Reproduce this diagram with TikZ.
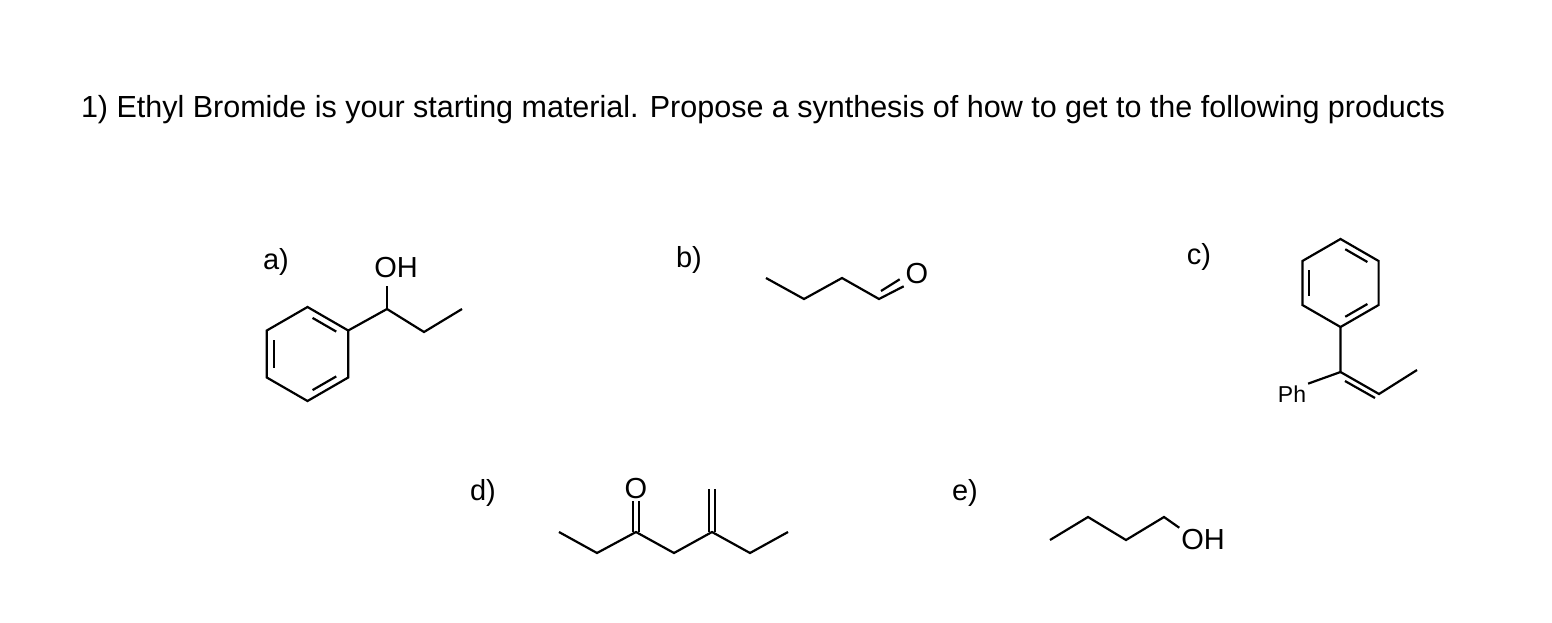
\documentclass[tikz,border=0pt]{standalone}
\usepackage{fontspec}
\setmainfont{Liberation Sans}
\usetikzlibrary{calc}
\begin{document}
\begin{tikzpicture}[x=1pt,y=-1pt,line width=2pt,
  bnd/.style={line width=2.2pt,line join=miter},
  lbl/.style={font=\fontsize{29}{33}\selectfont,inner sep=0pt},
  atom/.style={font=\fontsize{29}{33}\selectfont,inner sep=1pt}]
\useasboundingbox (0,0) rectangle (1552,622);
\node[lbl,anchor=west,font=\fontsize{30.5}{34}\selectfont] (title) at (80,110) {1) Ethyl Bromide is your starting material. Propose a synthesis of how to get to the following products};
% a)
\node[lbl] (la) at (276,262) {a)};
\foreach \i in {0,...,5}{\coordinate (ra\i) at ({307.5+47*cos(90+60*\i)},{354-47*sin(90+60*\i)});}
\draw[bnd] (ra0)--(ra1)--(ra2)--(ra3)--(ra4)--(ra5)--cycle;
\coordinate (ca) at (307.5,354);
\draw[bnd] ($(ra0)!0.15!(ra5)!0.17!(ca)$) -- ($(ra5)!0.15!(ra0)!0.17!(ca)$);
\draw[bnd] ($(ra1)!0.15!(ra2)!0.17!(ca)$) -- ($(ra2)!0.15!(ra1)!0.17!(ca)$);
\draw[bnd] ($(ra3)!0.15!(ra4)!0.17!(ca)$) -- ($(ra4)!0.15!(ra3)!0.17!(ca)$);
\coordinate (a1) at (387,309); \coordinate (a2) at (424,332); \coordinate (a3) at (462,309);
\node[atom] (ohA) at (396,268) {OH};
\draw[bnd] (ra5)--(a1)--(a2)--(a3);
\draw[bnd] (a1)--(387,286);
% b)
\node[lbl] (lb) at (689,260) {b)};
\coordinate (b1) at (766,278); \coordinate (b2) at (804,299); \coordinate (b3) at (842,278); \coordinate (b4) at (879,299);
\node[atom] (ob) at (917,274) {O};
\draw[bnd] (b1)--(b2)--(b3)--(b4)--(ob.south west);
\draw[bnd] ($(b4)+(2,-8)$)--($(ob.south west)+(-4,-7)$);
% c)
\node[lbl] (lc) at (1199,257) {c)};
\foreach \i in {0,...,5}{\coordinate (rc\i) at ({1340.5+44*cos(90+60*\i)},{283-44*sin(90+60*\i)});}
\coordinate (cc) at (1340.5,283);
\draw[bnd] (rc0)--(rc1)--(rc2)--(rc3)--(rc4)--(rc5)--cycle;
\draw[bnd] ($(rc0)!0.15!(rc5)!0.17!(cc)$) -- ($(rc5)!0.15!(rc0)!0.17!(cc)$);
\draw[bnd] ($(rc1)!0.15!(rc2)!0.17!(cc)$) -- ($(rc2)!0.15!(rc1)!0.17!(cc)$);
\draw[bnd] ($(rc3)!0.15!(rc4)!0.17!(cc)$) -- ($(rc4)!0.15!(rc3)!0.17!(cc)$);
\coordinate (c1) at (1340.5,372); \coordinate (c2) at (1379,394); \coordinate (c3) at (1417,370);
\node[atom,font=\fontsize{23}{27}\selectfont] (ph) at (1292,394) {Ph};
\draw[bnd] (rc3)--(c1)--(c2)--(c3);
\draw[bnd] (c1)--(ph.north east);
\draw[bnd] (1345,381)--(1375,398);
% d)
\node[lbl] (ld) at (483,493) {d)};
\coordinate (d1) at (559,532); \coordinate (d2) at (597,553); \coordinate (d3) at (636,532);
\coordinate (d4) at (674,553); \coordinate (d5) at (712,532); \coordinate (d6) at (750,553); \coordinate (d7) at (788,532);
\node[atom] (od) at (636,489) {O};
\draw[bnd] (d1)--(d2)--(d3)--(d4)--(d5)--(d6)--(d7);
\draw[bnd] ($(d3)+(-3,0)$)--($(od.south)+(-3,0)$);
\draw[bnd] ($(d3)+(3,0)$)--($(od.south)+(3,0)$);
\coordinate (d8) at (712,489);
\draw[bnd] ($(d5)+(-3,0)$)--($(d8)+(-3,0)$);
\draw[bnd] ($(d5)+(3,0)$)--($(d8)+(3,0)$);
% e)
\node[lbl] (le) at (965,493) {e)};
\coordinate (e1) at (1050,540); \coordinate (e2) at (1088,517); \coordinate (e3) at (1126,540); \coordinate (e4) at (1164,517);
\node[atom] (ohE) at (1203,540) {OH};
\draw[bnd] (e1)--(e2)--(e3)--(e4)--(ohE.north west);
\end{tikzpicture}
\end{document}
